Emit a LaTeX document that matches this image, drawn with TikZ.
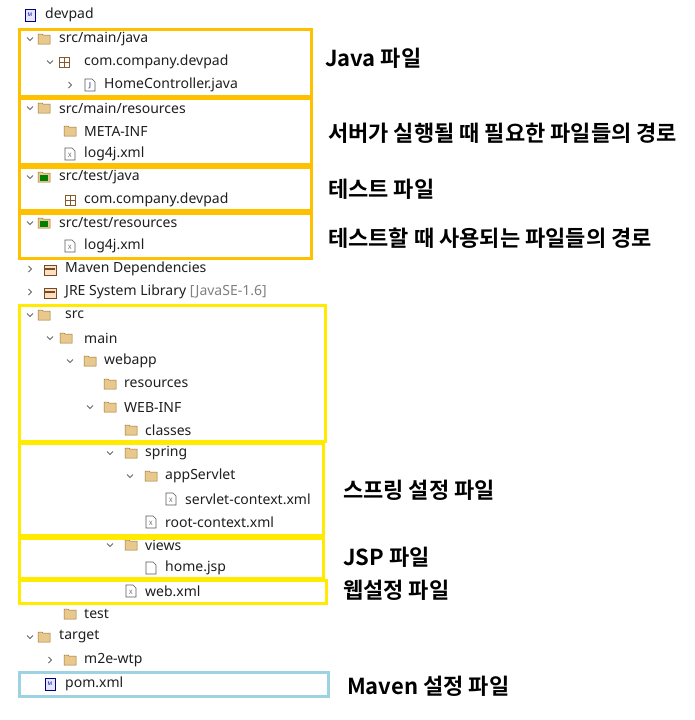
\documentclass[tikz,border=0pt]{standalone}
\usepackage{fontspec}
\setmainfont{Noto Sans}
\newfontfamily\kr{Noto Sans CJK KR}[BoldFont={* Bold}]
\definecolor{ob}{HTML}{FFC000}
\definecolor{yb}{HTML}{FFEA00}
\definecolor{bb}{HTML}{9DD3E0}
\definecolor{fold}{HTML}{D9A441}
\tikzset{
 tt/.style={anchor=west,inner sep=0,font=\fontsize{14pt}{16pt}\selectfont,text=black!88},
 lab/.style={anchor=west,inner sep=0,font=\kr\bfseries\fontsize{22pt}{24pt}\selectfont},
 hb/.style={line width=3pt},
 arr/.style={gray!80!black,line width=0.8pt},
}
\newcommand\arrE[2]{\draw[arr] (#1-3,#2-1.5)--(#1,#2+1.5)--(#1+3,#2-1.5);}
\newcommand\arrC[2]{\draw[arr] (#1-1.5,#2-3)--(#1+1.5,#2)--(#1-1.5,#2+3);}
\newcommand\icF[2]{\filldraw[draw=fold!70!black,fill=fold!60,line width=0.5pt] (#1-6,#2+5)--(#1-6,#2-5)--(#1-2,#2-5)--(#1-1,#2-4)--(#1+6,#2-4)--(#1+6,#2+5)--cycle;}
\newcommand\icP[2]{\draw[brown!70!black,line width=0.7pt] (#1-5,#2-5) rectangle (#1+5,#2+5) (#1,#2-5)--(#1,#2+5) (#1-5,#2)--(#1+5,#2);}
\newcommand\icD[2]{\filldraw[draw=gray!70!black,fill=white,line width=0.6pt] (#1-5,#2-6)--(#1+2,#2-6)--(#1+5,#2-3)--(#1+5,#2+6)--(#1-5,#2+6)--cycle;}
\newcommand\icX[2]{\icD{#1}{#2}\node[font=\fontsize{6pt}{6pt}\selectfont\bfseries,text=gray!70!black,inner sep=0] at (#1,#2+1) {X};}
\newcommand\icJ[2]{\icD{#1}{#2}\node[font=\fontsize{7pt}{7pt}\selectfont\bfseries,text=blue!60!black,inner sep=0] at (#1,#2+1) {J};}
\newcommand\icL[2]{\filldraw[draw=brown!60!black,fill=orange!25,line width=0.5pt] (#1-6,#2-4) rectangle (#1+6,#2+6); \fill[brown!60!black] (#1-5,#2-1) rectangle (#1+5,#2+1);}
\newcommand\icM[2]{\filldraw[draw=blue!50!black,fill=blue!10,line width=0.5pt] (#1-5,#2-6) rectangle (#1+5,#2+6);\node[font=\fontsize{5pt}{5pt}\selectfont\bfseries,text=blue!60!black,inner sep=0] at (#1,#2) {M};}
\begin{document}
\begin{tikzpicture}[x=1pt,y=-1pt]
\useasboundingbox[fill=white] (0,0) rectangle (694,720);
\icM{30}{15}
\node[tt] (n0) at (45,15) {devpad};
\arrE{30}{39}\icF{44}{39}\node[tt] (n1) at (59,39) {src/main/java};
\arrE{50}{62}\icP{64}{62}\node[tt] (n2) at (84,62) {com.company.devpad};
\arrC{70}{85}\icJ{90}{85}\node[tt] (n3) at (104,85) {HomeController.java};
\arrE{30}{108}\icF{44}{108}\node[tt] (n4) at (59,108) {src/main/resources};
\icF{70}{131}\node[tt] (n5) at (84,131) {META-INF};
\icX{70}{154}\node[tt] (n6) at (84,154) {log4j.xml};
\arrE{30}{177}\icF{44}{177}\fill[green!50!black] (40,175) rectangle (48,181);\node[tt] (n7) at (59,177) {src/test/java};
\icP{70}{200}\node[tt] (n8) at (84,200) {com.company.devpad};
\arrE{30}{223}\icF{44}{223}\fill[green!50!black] (40,221) rectangle (48,227);\node[tt] (n9) at (59,223) {src/test/resources};
\icX{70}{246}\node[tt] (n10) at (84,246) {log4j.xml};
\arrC{30}{269}\icL{50}{269}\node[tt] (n11) at (65,269) {Maven Dependencies};
\arrC{30}{292}\icL{50}{292}\node[tt] (n12) at (65,292) {JRE System Library \textcolor{gray}{[JavaSE-1.6]}};
\arrE{30}{315}\icF{44}{315}\node[tt] (n13) at (65,315) {src};
\arrE{50}{338}\icF{66}{338}\node[tt] (n14) at (84,338) {main};
\arrE{70}{361}\icF{90}{361}\node[tt] (n15) at (104,361) {webapp};
\icF{110}{384}\node[tt] (n16) at (124,384) {resources};
\arrE{90}{407}\icF{110}{407}\node[tt] (n17) at (124,407) {WEB-INF};
\icF{131}{430}\node[tt] (n18) at (145,430) {classes};
\arrE{110}{453}\icF{131}{453}\node[tt] (n19) at (145,453) {spring};
\arrE{130}{476}\icF{151}{476}\node[tt] (n20) at (165,476) {appServlet};
\icX{171}{499}\node[tt] (n21) at (185,499) {servlet-context.xml};
\icX{151}{522}\node[tt] (n22) at (165,522) {root-context.xml};
\arrE{110}{545}\icF{131}{545}\node[tt] (n23) at (145,545) {views};
\icD{151}{568}\node[tt] (n24) at (165,568) {home.jsp};
\icX{131}{591}\node[tt] (n25) at (145,591) {web.xml};
\icF{70}{614}\node[tt] (n26) at (84,614) {test};
\arrE{30}{637}\icF{44}{637}\node[tt] (n27) at (59,637) {target};
\arrC{50}{660}\icF{70}{660}\node[tt] (n28) at (84,660) {m2e-wtp};
\icM{50}{684}\node[tt] (n29) at (65,684) {pom.xml};
\draw[hb,ob] (19,29) rectangle (311,96);
\draw[hb,ob] (19,98) rectangle (311,164);
\draw[hb,ob] (19,167) rectangle (311,210);
\draw[hb,ob] (19,213) rectangle (311,258);
\draw[hb,yb] (19,305) rectangle (325,441);
\draw[hb,yb] (19,443) rectangle (323,535);
\draw[hb,yb] (19,538) rectangle (323,578);
\draw[hb,yb] (19,580) rectangle (326,603);
\draw[hb,bb] (19,672) rectangle (328,696);
\node[lab] (l1) at (325,58) {Java 파일};
\node[lab] (l2) at (328,133) {서버가 실행될 때 필요한 파일들의 경로};
\node[lab] (l3) at (328,189) {테스트 파일};
\node[lab] (l4) at (328,238) {테스트할 때 사용되는 파일들의 경로};
\node[lab] (l5) at (343,490) {스프링 설정 파일};
\node[lab] (l6) at (343,557) {JSP 파일};
\node[lab] (l7) at (343,590) {웹설정 파일};
\node[lab] (l8) at (347,686) {Maven 설정 파일};
\end{tikzpicture}
\end{document}
